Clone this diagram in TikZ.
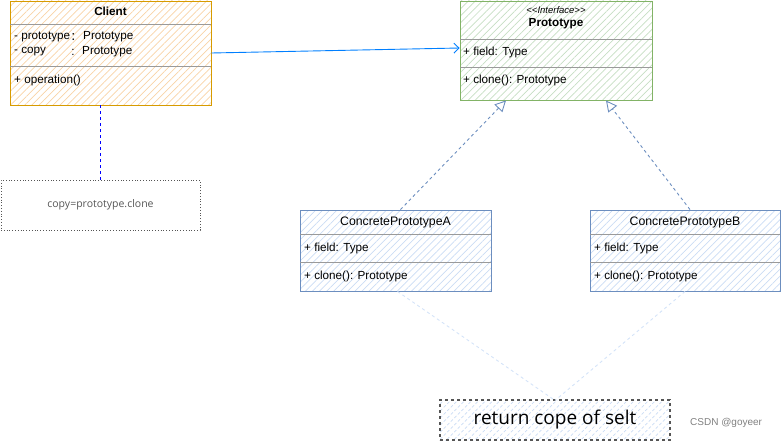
\documentclass[tikz,border=0pt]{standalone}
\usepackage{fontspec}
\setmainfont{Liberation Sans}
\newfontfamily\handfont{Open Sans}
\newfontfamily\cjkfont{Noto Sans CJK SC}
\usetikzlibrary{arrows.meta,patterns.meta}
\definecolor{orbord}{HTML}{D79B00}
\definecolor{orfill}{HTML}{F8D3A6}
\definecolor{grbord}{HTML}{82B366}
\definecolor{grfill}{HTML}{C6DEC3}
\definecolor{blbord}{HTML}{6C8EBF}
\definecolor{blfill}{HTML}{CADCF4}
\definecolor{sepgray}{HTML}{9A9A9A}
\definecolor{arrblue}{HTML}{007FFF}
\definecolor{notegray}{HTML}{555555}
\definecolor{lightline}{HTML}{D4E3F8}
\tikzset{
  umlbox/.style={rectangle, inner sep=0pt, line width=0.9pt},
  hatch/.style={pattern={Lines[angle=45,distance=5pt,line width=0.7pt]}, pattern color=#1},
  sep/.style={draw=sepgray, line width=0.6pt},
  txt/.style={inner sep=0pt, anchor=west, font=\fontsize{11.7}{13}\selectfont},
  ttl/.style={inner sep=0pt, font=\fontsize{11.7}{13}\selectfont\bfseries},
  ctitle/.style={inner sep=0pt, font=\fontsize{12.3}{14}\selectfont},
  realize/.style={draw=blbord, dashed, line width=0.9pt, -{Triangle[open,length=11pt,width=11pt]}},
}
\begin{document}
\begin{tikzpicture}[x=1pt,y=-1pt]
\useasboundingbox (0,0) rectangle (781,441);
% Client
\node[umlbox, draw=orbord, hatch=orfill, minimum width=201pt, minimum height=104pt] (client) at (110.5,53) {};
\draw[sep] (10,24) -- (211,24);
\draw[sep] (10,66) -- (211,66);
\node[ttl] (clientT) at (110.5,11) {Client};
\node[txt] (ca1) at (14,37) {- prototype};
\node[inner sep=0pt, font=\cjkfont\fontsize{11}{13}\selectfont] (ca1c) at (76,37) {：};
\node[txt] (ca1t) at (83,37) {Prototype};
\node[txt] (ca2) at (14,52) {- copy};
\node[inner sep=0pt, font=\fontsize{11.7}{13}\selectfont] (ca2c) at (73,52) {:};
\node[txt] (ca2t) at (82,52) {Prototype};
\node[txt] (cop) at (14,80) {+ operation()};
% Prototype
\node[umlbox, draw=grbord, hatch=grfill, minimum width=192pt, minimum height=99pt] (proto) at (556,50.5) {};
\draw[sep] (460,39) -- (652,39);
\draw[sep] (460,67) -- (652,67);
\node[inner sep=0pt, font=\fontsize{9.5}{11}\selectfont\itshape] (protoS) at (556,10) {<{}<Interface>{}>};
\node[ttl] (protoT) at (556,24) {Prototype};
\node[txt] (pf) at (463,52) {+ field: Type};
\node[txt] (pc) at (463,80) {+ clone(): Prototype};
% Concrete A
\node[umlbox, draw=blbord, hatch=blfill, minimum width=191pt, minimum height=81pt] (cpa) at (395.5,250.5) {};
\draw[sep] (300,234) -- (491,234);
\draw[sep] (300,262) -- (491,262);
\node[ctitle] (cpaT) at (395.5,222) {ConcretePrototypeA};
\node[txt] (af) at (304,248) {+ field: Type};
\node[txt] (ac) at (304,276) {+ clone(): Prototype};
% Concrete B
\node[umlbox, draw=blbord, hatch=blfill, minimum width=190pt, minimum height=81pt] (cpb) at (685,250.5) {};
\draw[sep] (590,234) -- (780,234);
\draw[sep] (590,262) -- (780,262);
\node[ctitle] (cpbT) at (685,222) {ConcretePrototypeB};
\node[txt] (bf) at (594,248) {+ field: Type};
\node[txt] (bc) at (594,276) {+ clone(): Prototype};
% Notes
\node[rectangle, draw=notegray, dotted, line width=0.8pt, minimum width=199pt, minimum height=50pt, font=\handfont\fontsize{10.5}{12}\selectfont, text=notegray] (note1) at (100.5,205) {copy=prototype.clone};
\node[rectangle, draw=notegray, dashed, line width=1.1pt, hatch=blfill, minimum width=230pt, minimum height=40pt, font=\handfont\fontsize{19}{22}\selectfont] (note2) at (555,420) {return cope of selt};
\node[inner sep=0pt, anchor=west, font=\fontsize{10}{12}\selectfont, text=gray] (wm) at (690,423) {CSDN @goyeer};
% Connectors
\draw[draw=arrblue, line width=0.9pt, -{Straight Barb[length=5pt,width=10pt]}] (client.east) -- ([yshift=2.5pt]proto.west);
\draw[draw=blue, dashed, line width=0.7pt] ([xshift=-10pt]client.south) -- (note1.north);
\draw[realize] ([xshift=5pt]cpa.north) -- ([xshift=-50pt]proto.south);
\draw[realize] ([xshift=5pt]cpb.north) -- ([xshift=50pt]proto.south);
\draw[draw=lightline, dashed, line width=0.9pt] ([xshift=2pt]cpa.south) -- ([yshift=-1pt]note2.north);
\draw[draw=lightline, dashed, line width=0.9pt] (cpb.south) -- ([yshift=-1pt]note2.north);
\end{tikzpicture}
\end{document}
